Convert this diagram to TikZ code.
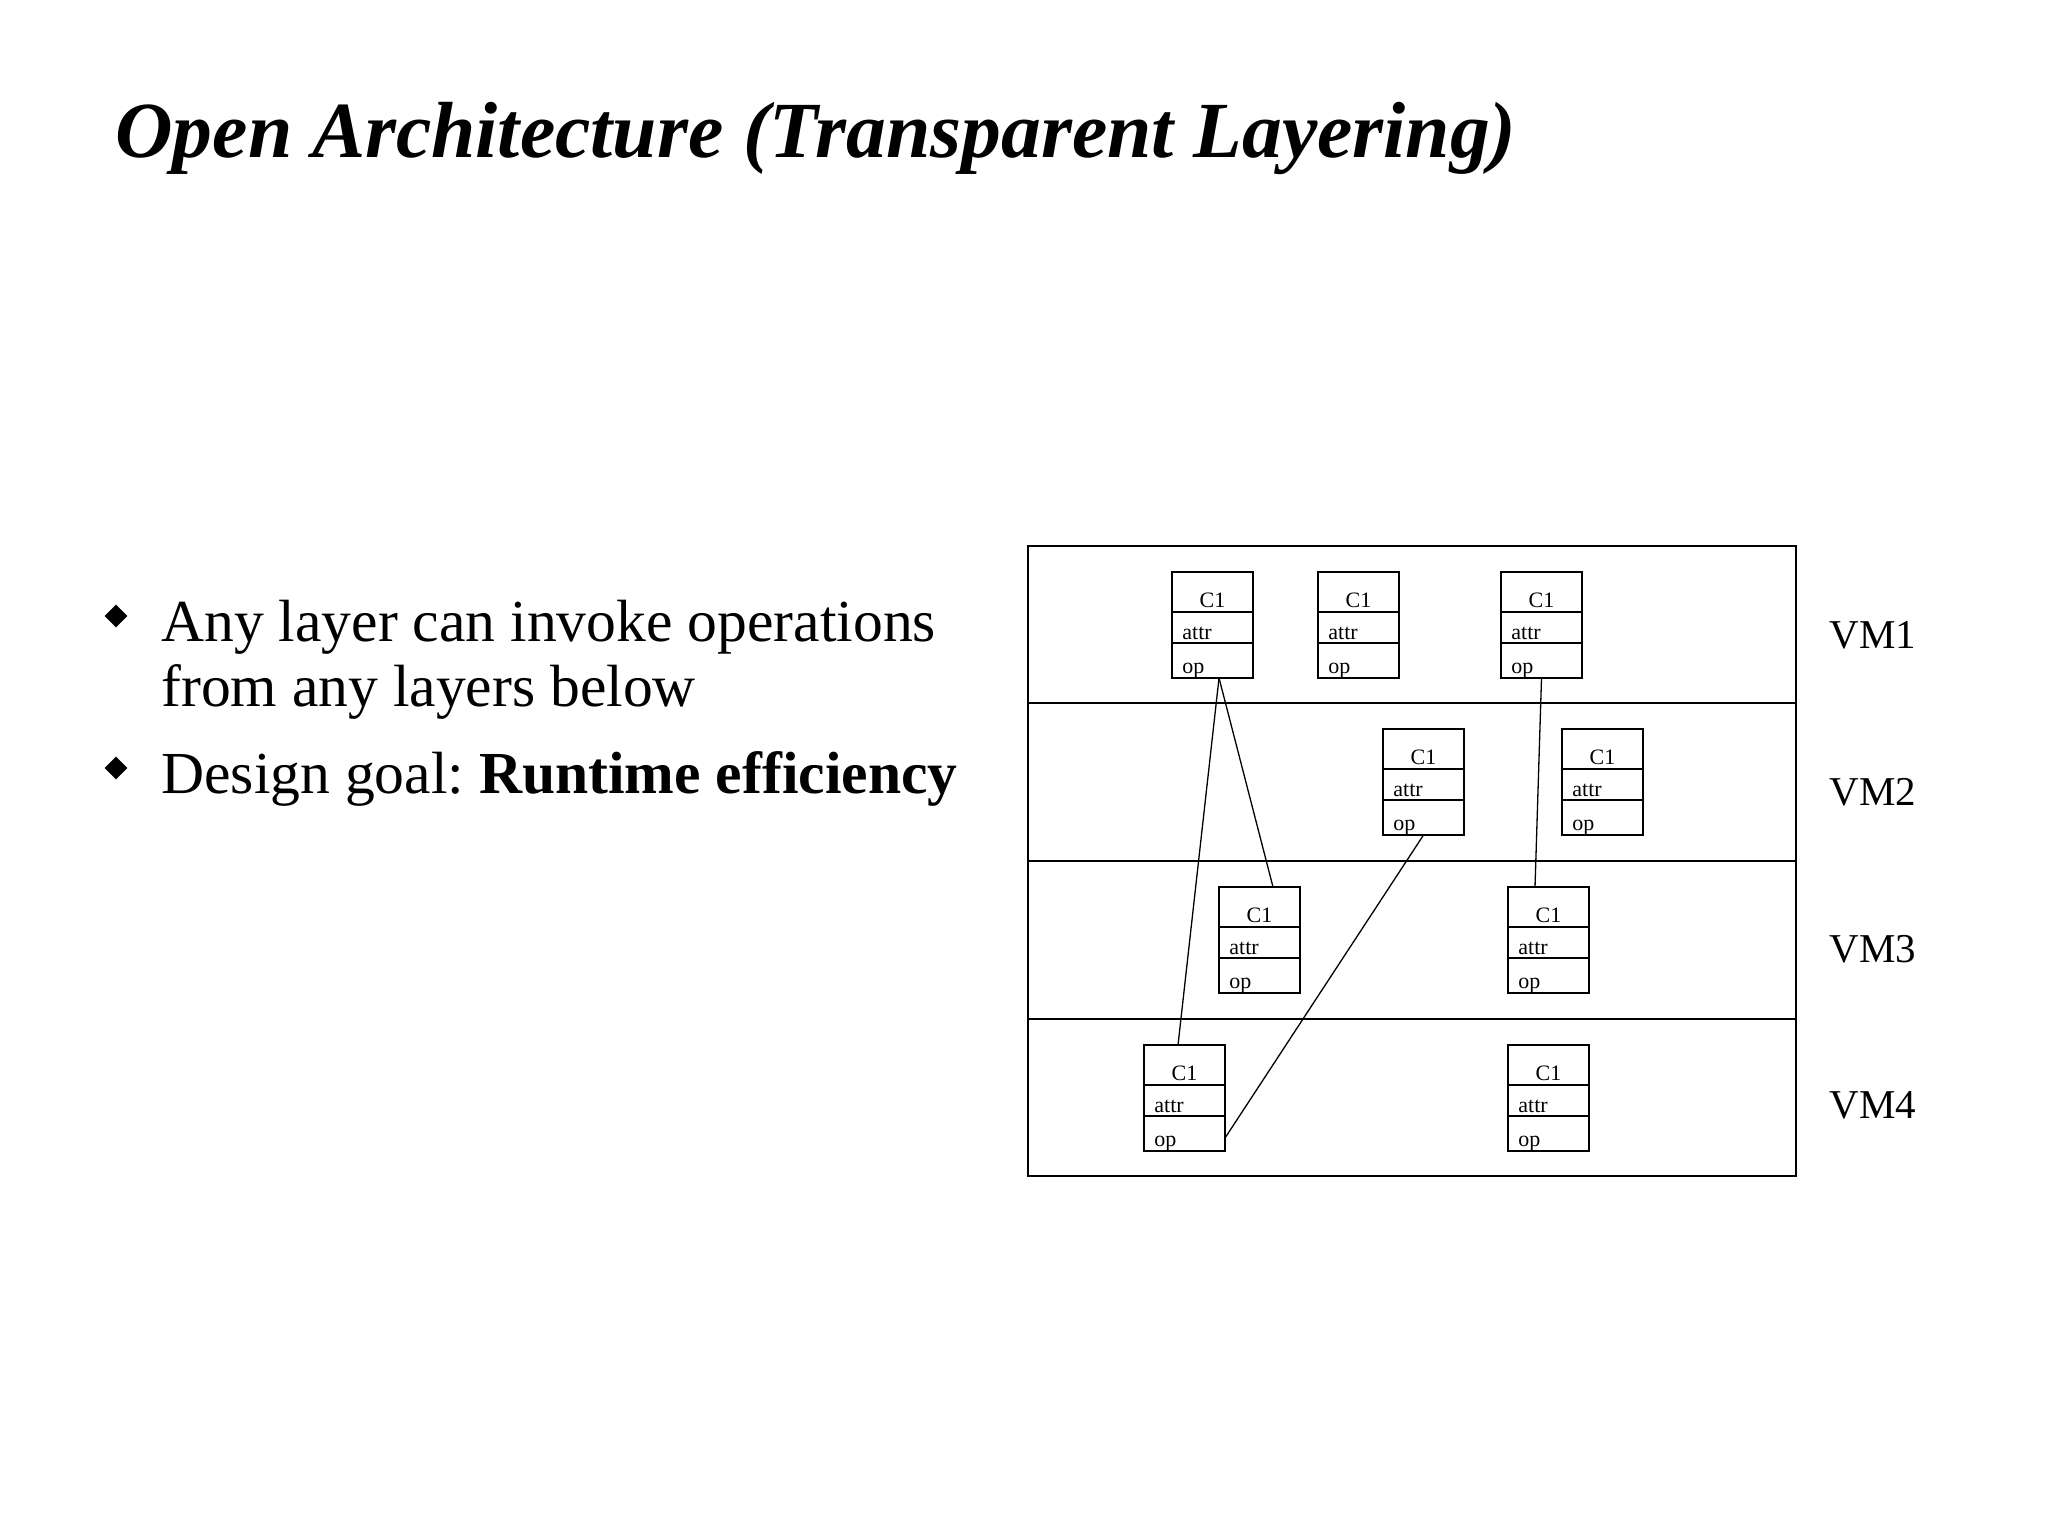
\documentclass[tikz,border=0pt]{standalone}
\usepackage{fontspec}
\setmainfont{Liberation Serif}
\usetikzlibrary{calc,shapes.geometric}
\frenchspacing
\newcommand{\clsbox}[3]{%
  \node[clsframe, anchor=north west] (#1) at (#2,#3) {};
  \draw[clsline] ($(#1.north west)+(0,40)$) -- ($(#1.north east)+(0,40)$);
  \draw[clsline] ($(#1.north west)+(0,71)$) -- ($(#1.north east)+(0,71)$);
  \node[clstext, anchor=base] (#1-n) at ($(#1.north)+(0,35)$) {C1};
  \node[clstext, anchor=base west] (#1-a) at ($(#1.north west)+(10,67)$) {attr};
  \node[clstext, anchor=base west] (#1-o) at ($(#1.north west)+(10,101)$) {op};
}
\begin{document}
\begin{tikzpicture}[x=0.5pt,y=-0.5pt,
  frame/.style={draw=black, line width=0.8pt},
  clsframe/.style={draw=black, line width=0.8pt, rectangle, minimum width=40.5pt, minimum height=53pt, inner sep=0pt, outer sep=0pt},
  clsline/.style={draw=black, line width=0.8pt},
  clstext/.style={font=\fontsize{11}{13}\selectfont, inner sep=0pt},
  link/.style={draw=black, line width=0.65pt},
  vmlabel/.style={font=\fontsize{20.5}{24}\selectfont, inner sep=0pt, anchor=base west},
  titletext/.style={font=\fontsize{39.8}{46}\selectfont\bfseries\itshape, inner sep=0pt, anchor=base west},
  bullettext/.style={font=\fontsize{29.8}{36}\selectfont, inner sep=0pt, anchor=base west},
  bulletmark/.style={diamond, fill=black, inner sep=0pt, minimum width=11.5pt, minimum height=11.5pt},
  ]
\useasboundingbox (0,0) rectangle (2048,1536);
\fill[white] (0,0) rectangle (2048,1536);

% title
\node[titletext] (title) at (115,157) {Open Architecture (Transparent Layering)};

% bullets
\node[bulletmark] (m1) at (116,616) {};
\node[bullettext] (t1) at (161,641) {Any layer can invoke operations};
\node[bullettext] (t2) at (161,706) {from any layers below};
\node[bulletmark] (m2) at (116,768) {};
\node[bullettext] (t3) at (161,793) {Design goal: \textbf{Runtime efficiency}};

% layered frame
\node[frame, rectangle, anchor=north west, minimum width=384pt, minimum height=315pt, inner sep=0pt, outer sep=0pt] (stack) at (1028,546) {};
\draw[frame] ($(stack.north west)+(0,157)$) -- ($(stack.north east)+(0,157)$);
\draw[frame] ($(stack.north west)+(0,315)$) -- ($(stack.north east)+(0,315)$);
\draw[frame] ($(stack.north west)+(0,473)$) -- ($(stack.north east)+(0,473)$);

% layer labels
\node[vmlabel] (vm1) at (1829,648) {VM1};
\node[vmlabel] (vm2) at (1829,805) {VM2};
\node[vmlabel] (vm3) at (1829,962) {VM3};
\node[vmlabel] (vm4) at (1829,1118) {VM4};

% classes
\clsbox{b11}{1172}{572}
\clsbox{b12}{1318}{572}
\clsbox{b13}{1501}{572}
\clsbox{b21}{1383}{729}
\clsbox{b22}{1562}{729}
\clsbox{b31}{1219}{887}
\clsbox{b32}{1508}{887}
\clsbox{b41}{1144}{1045}
\clsbox{b42}{1508}{1045}

% connectors
\coordinate (s11) at ($(b11.south west)+(47,0)$);
\coordinate (e41) at ($(b41.north west)+(34,0)$);
\coordinate (e31) at ($(b31.north west)+(54,0)$);
\coordinate (e32) at ($(b32.north west)+(27,0)$);
\coordinate (e41r) at ($(b41.north east)+(0,93)$);
\draw[link] (s11) -- (e41);
\draw[link] (s11) -- (e31);
\draw[link] (b13.south) -- (e32);
\draw[link] (b21.south) -- (e41r);
\end{tikzpicture}
\end{document}
